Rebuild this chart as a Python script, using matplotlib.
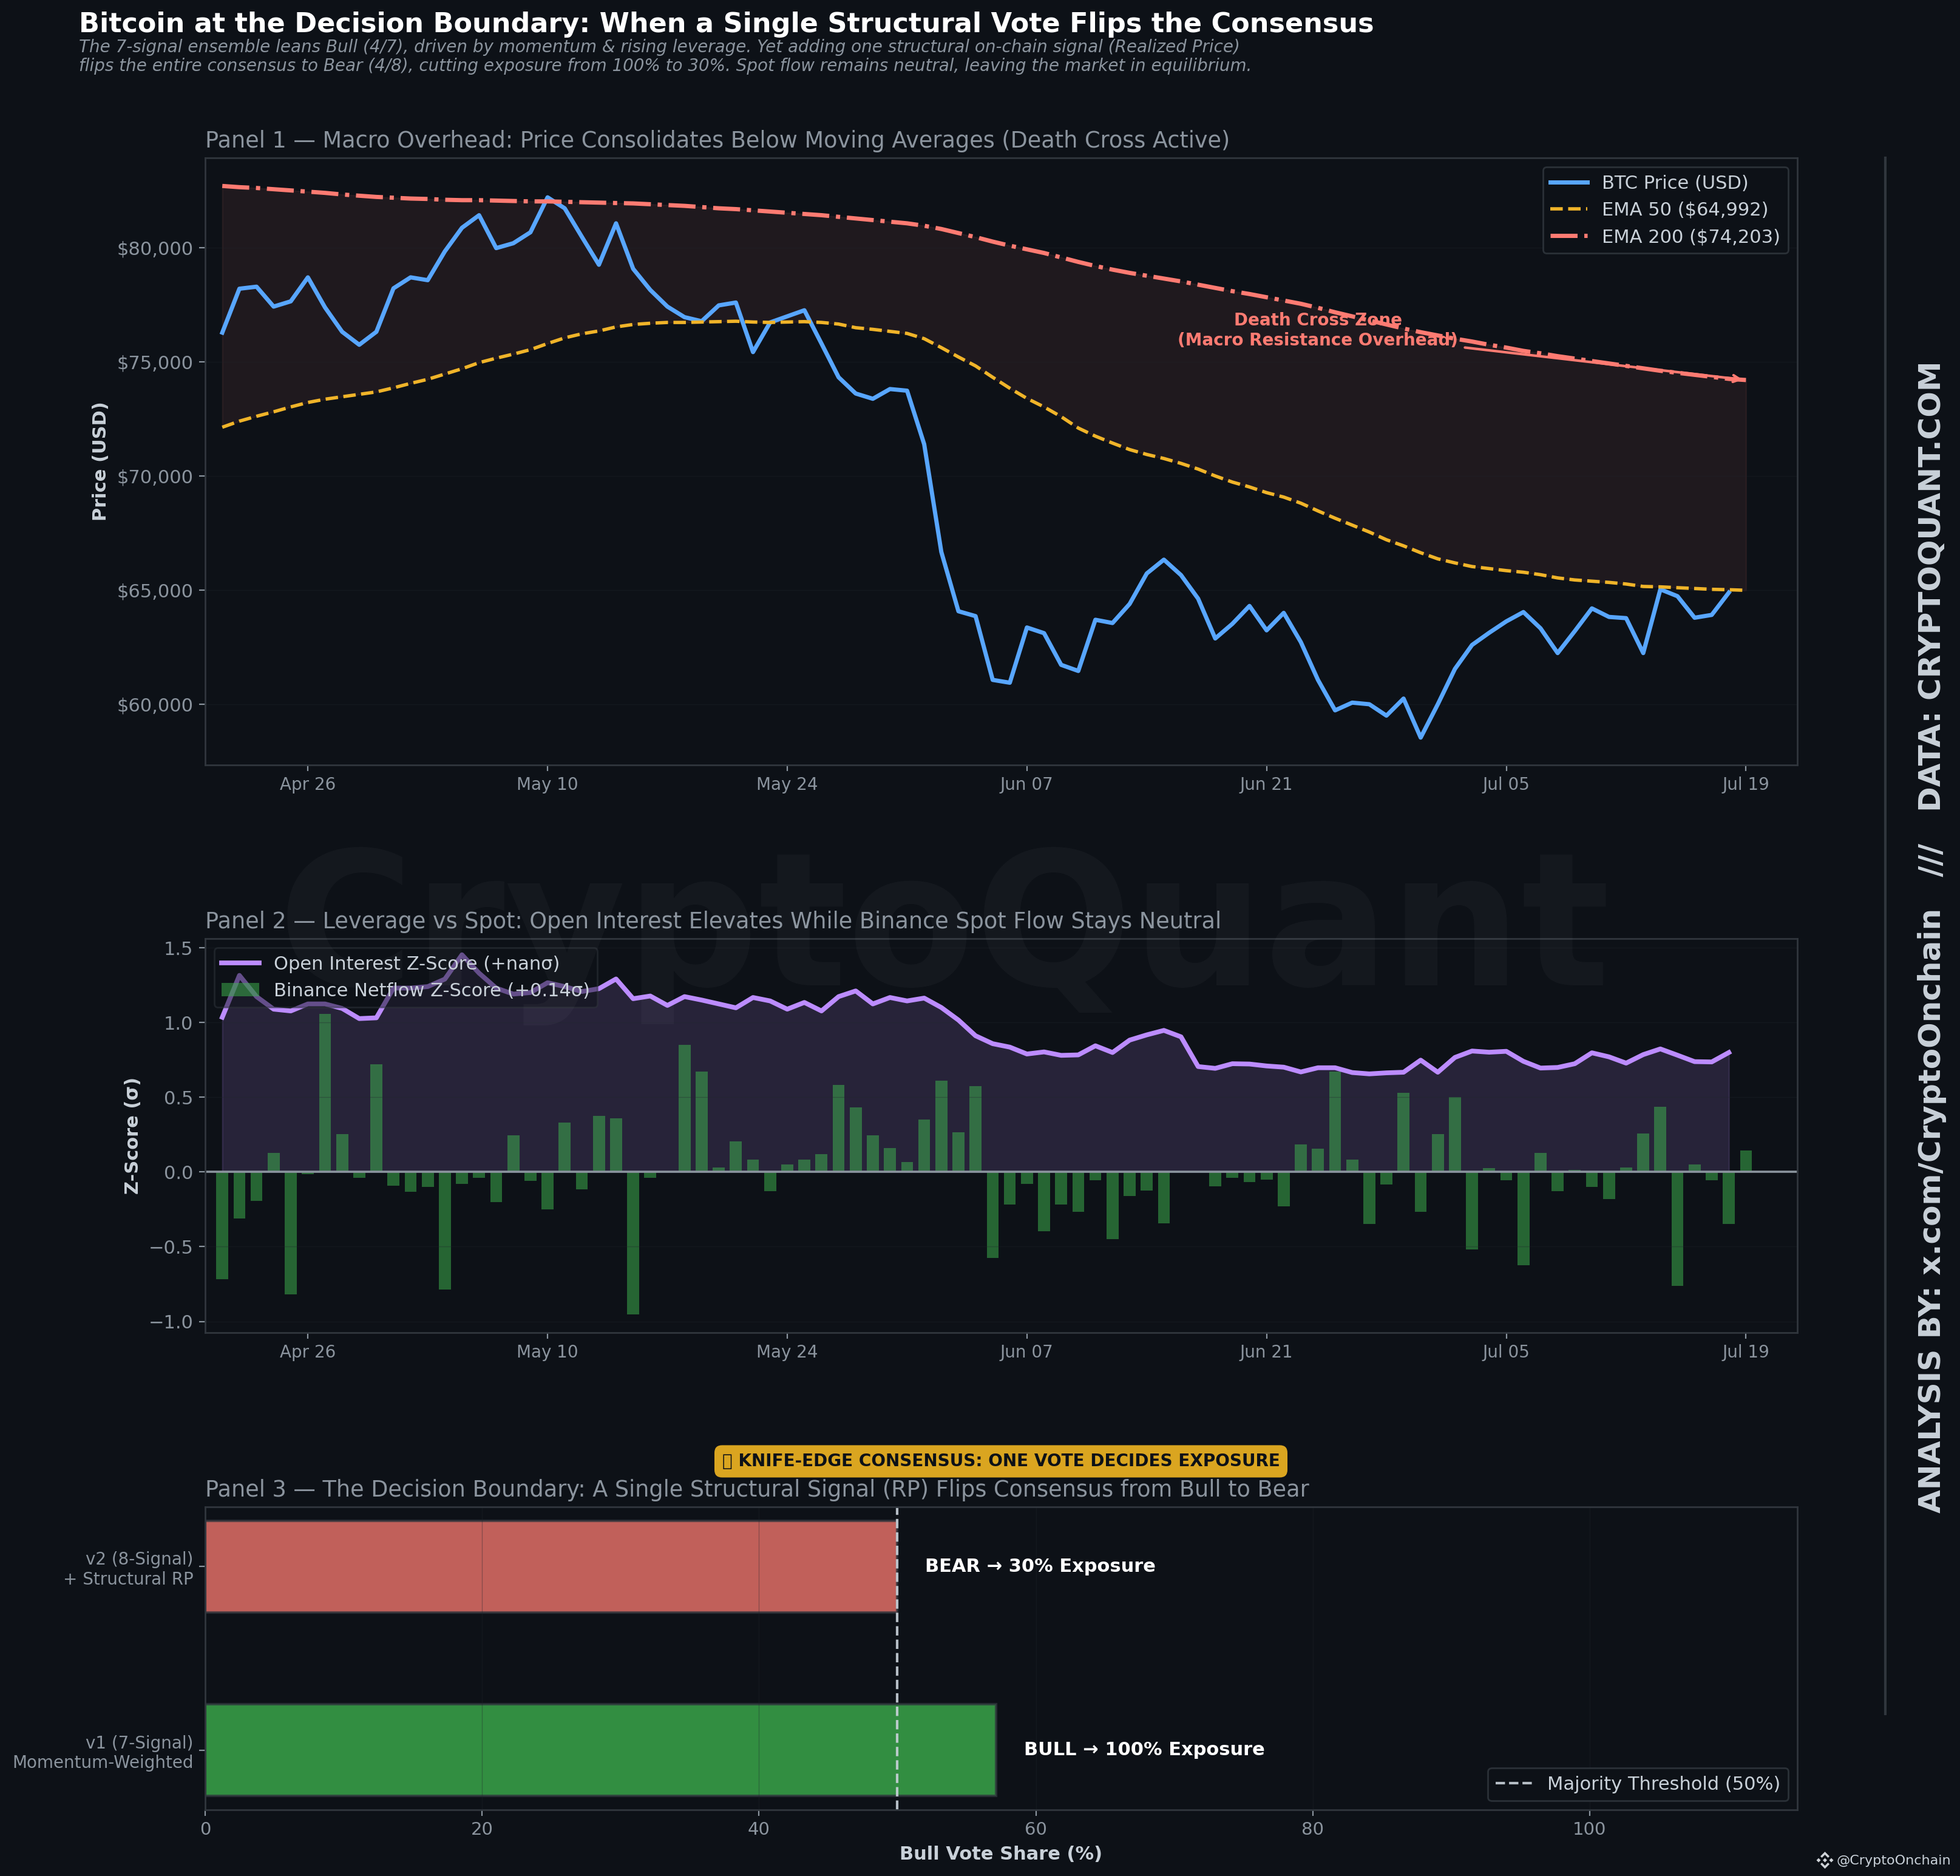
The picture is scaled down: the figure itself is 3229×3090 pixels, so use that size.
import warnings
import pandas as pd
import numpy as np
import matplotlib
matplotlib.use("Agg")
import matplotlib.pyplot as plt
import matplotlib.dates as mdates
from matplotlib.patches import Polygon
from matplotlib.ticker import FuncFormatter

warnings.filterwarnings("ignore")

BG = "#0d1117"; EDGE = "#30363d"; GRID = "#21262d"; MUTED = "#8b949e"; SOFT = "#c9d1d9"
BLUE = "#58a6ff"; GOLD = "#f0b429"; RED = "#ff7b72"; PURPLE = "#bc8cff"; GREEN = "#3fb950"

start_date = "2026-04-21"
price = [76281,78203,78292,77420,77651,78701,77384,76317,75747,76317,78220,78701,78577,79840,80872,81423,79982,80196,80676,82206,
81726,80480,79253,81068,79075,78149,77420,76957,76779,77473,77598,75427,76726,76993,77260,75800,74324,
73612,73381,73808,73736,71388,66672,64074,63861,61067,60943,63363,63114,61726,61459,63701,63558,64395,65729,66334,65658,64626,
62882,63523,64306,63238,64003,62722,61067,59733,60071,60000,59501,60249,58540,60000,61548,62597,63131,63630,64039,63327,62242,
63203,64199,63825,63772,62242,65035,64733,63790,63914,64893]
ema50 = [72135,72402,72615,72811,73025,73220,73363,73470,73576,73683,73861,74057,74235,74466,74697,74964,75160,75338,75534,75801,
76050,76228,76352,76530,76637,76690,76726,76726,76744,76761,76779,76744,76726,76744,76761,76726,76655,
76495,76423,76334,76245,76014,75623,75213,74822,74324,73843,73398,73025,72598,72099,71744,71441,71156,70943,70765,70551,70302,
70000,69733,69519,69270,69075,68808,68469,68149,67847,67544,67206,66939,66637,66370,66192,66032,65943,65854,65783,65676,65534,
65445,65391,65338,65267,65160,65142,65106,65071,65035,65017,64992]
ema200 = [82705,82651,82616,82562,82509,82456,82402,82331,82278,82224,82189,82153,82135,82100,82082,82082,82064,82046,82029,82029,
82011,81993,81975,81957,81940,81904,81868,81833,81779,81726,81690,81637,81584,81530,81477,81424,81352,
81281,81210,81139,81068,80961,80819,80641,80463,80267,80089,79929,79769,79573,79377,79199,79039,78897,78772,78648,78523,78381,
78238,78096,77971,77829,77687,77544,77366,77171,76993,76815,76637,76459,76299,76156,76014,75890,75747,75623,75480,75374,75249,
75142,75035,74929,74822,74715,74608,74519,74430,74341,74253,74203]
oi_z = [1.035,1.315,1.173,1.089,1.077,1.124,1.124,1.094,1.026,1.031,1.23,1.23,1.24,1.29,1.453,1.33,1.23,1.19,1.2,1.266,
1.24,1.207,1.226,1.291,1.159,1.177,1.114,1.173,1.15,1.124,1.098,1.167,1.144,1.089,1.134,1.077,1.173,1.211,1.124,1.167,
1.144,1.163,1.1,1.016,0.911,0.858,0.835,0.789,0.803,0.78,0.783,0.844,0.799,0.882,0.917,0.947,0.904,0.705,0.693,0.724,
0.722,0.709,0.701,0.669,0.697,0.697,0.665,0.656,0.663,0.667,0.748,0.667,0.766,0.809,0.801,0.807,0.74,0.695,0.699,0.724,
0.797,0.77,0.728,0.785,0.823,0.781,0.738,0.736,0.799]
netflow_z = [-0.718,-0.311,-0.195,0.126,-0.819,-0.016,1.057,0.252,-0.039,0.72,-0.093,-0.134,-0.10,-0.787,-0.081,-0.039,-0.203,0.244,-0.059,-0.25,
0.331,-0.116,0.374,0.358,-0.953,-0.039,0.0,0.85,0.671,0.03,0.205,0.083,-0.13,0.049,0.083,0.118,0.583,0.431,0.244,0.159,
0.067,0.35,0.61,0.266,0.573,-0.575,-0.219,-0.081,-0.398,-0.219,-0.268,-0.055,-0.449,-0.161,-0.124,-0.344,0.0,0.0,-0.096,-0.039,
-0.069,-0.051,-0.23,0.183,0.155,0.671,0.083,-0.348,-0.085,0.53,-0.268,0.252,0.502,-0.52,0.026,-0.055,-0.624,0.126,-0.13,0.014,
-0.10,-0.181,0.03,0.256,0.435,-0.762,0.049,-0.055,-0.348,0.144]
vote_labels = ["v1 (7-Signal)\nMomentum-Weighted", "v2 (8-Signal)\n+ Structural RP"]
vote_share = [57.14, 50.0]
vote_text = ["BULL → 100% Exposure", "BEAR → 30% Exposure"]
vote_colors = [GREEN, RED]
price_ticks = [60000, 65000, 70000, 75000, 80000]
z_ticks = [-1.0, -0.5, 0.0, 0.5, 1.0, 1.5]
share_ticks = [0, 20, 40, 60, 80, 100]

dates = pd.date_range(start_date, periods=90, freq="D")
date_ticks = pd.date_range("2026-04-26", "2026-07-19", freq="14D")
xlim = (pd.Timestamp("2026-04-20"), pd.Timestamp("2026-07-22"))

W, H = 3230, 3090
fig = plt.figure(figsize=(W/200, H/200), dpi=200, facecolor=BG)
plt.rcParams["font.family"] = ["DejaVu Sans"]

def box(l, t, r, b):
    return [l/W, 1-b/H, (r-l)/W, (b-t)/H]

ax1 = fig.add_axes(box(338, 260, 2961, 1260))
ax2 = fig.add_axes(box(338, 1546, 2961, 2195))
ax3 = fig.add_axes(box(338, 2482, 2961, 2981))

def style(ax, title):
    ax.set_facecolor(BG)
    for s in ax.spines.values():
        s.set_color(EDGE); s.set_linewidth(1.0)
    ax.tick_params(colors=MUTED, labelsize=11, length=3.5, width=0.8, color=MUTED)
    ax.set_title(title, loc="left", color=MUTED, fontsize=13.2, pad=6)

style(ax1, "Panel 1 — Macro Overhead: Price Consolidates Below Moving Averages (Death Cross Active)")
style(ax2, "Panel 2 — Leverage vs Spot: Open Interest Elevates While Binance Spot Flow Stays Neutral")
style(ax3, "Panel 3 — The Decision Boundary: A Single Structural Signal (RP) Flips Consensus from Bull to Bear")

# Panel 1
ax1.fill_between(dates, ema50, ema200, color=RED, alpha=0.08, linewidth=0.8)
ax1.plot(dates[:len(price)], price, color=BLUE, lw=2.5, label="BTC Price (USD)")
ax1.plot(dates, ema50, color=GOLD, lw=2.0, ls="--", label="EMA 50 ($64,992)")
ax1.plot(dates, ema200, color=RED, lw=2.5, ls="-.", label="EMA 200 ($74,203)")
ax1.set_xlim(*xlim); ax1.set_ylim(57340, 83936)
ax1.set_yticks(price_ticks)
ax1.yaxis.set_major_formatter(FuncFormatter(lambda v, _: f"${v:,.0f}"))
ax1.set_ylabel("Price (USD)", color=SOFT, fontsize=11, fontweight="bold")
ax1.grid(axis="y", color=GRID, alpha=0.35, lw=0.5)
ax1.annotate("Death Cross Zone\n(Macro Resistance Overhead)", xy=(dates[-1], ema200[-1]),
             xytext=(pd.Timestamp("2026-06-24"), 76370), color=RED, fontsize=10, fontweight="bold",
             ha="center", va="center", arrowprops=dict(arrowstyle="->", color=RED, lw=1.5))
ax1.legend(loc="upper right", fontsize=11, facecolor=BG, edgecolor=EDGE, labelcolor=SOFT, framealpha=0.85)

# Panel 2
ax2.fill_between(dates[:len(oi_z)], 0, oi_z, color=PURPLE, alpha=0.15, linewidth=0.8)
ax2.bar(dates[:len(netflow_z)], netflow_z, width=0.7, color=GREEN, alpha=0.5, label="Binance Netflow Z-Score (+0.14σ)")
ax2.plot(dates[:len(oi_z)], oi_z, color=PURPLE, lw=2.8, label="Open Interest Z-Score (+nanσ)")
ax2.axhline(0, color=MUTED, lw=1.3)
ax2.set_xlim(*xlim); ax2.set_ylim(-1.075, 1.561)
ax2.set_yticks(z_ticks)
ax2.set_ylabel("Z-Score (σ)", color=SOFT, fontsize=11, fontweight="bold")
ax2.grid(axis="y", color=GRID, alpha=0.35, lw=0.5)
ax2.legend(loc="upper left", fontsize=11, facecolor=BG, edgecolor=EDGE, labelcolor=SOFT, framealpha=0.5)

for ax in (ax1, ax2):
    ax.set_xticks(date_ticks)
    ax.xaxis.set_major_formatter(mdates.DateFormatter("%b %d"))
    ax.tick_params(axis="x", labelsize=10)

# Panel 3
ypos = np.arange(len(vote_share))
ax3.barh(ypos, vote_share, height=0.5, color=vote_colors, alpha=0.75, edgecolor=EDGE, linewidth=1.5)
ax3.axvline(50, color=SOFT, ls="--", lw=1.5, alpha=0.9, label="Majority Threshold (50%)")
ax3.set_xlim(0, 115); ax3.set_ylim(-0.325, 1.325)
ax3.set_yticks(ypos); ax3.set_yticklabels(vote_labels, fontsize=10)
ax3.set_xticks(share_ticks)
ax3.tick_params(axis="x", labelsize=10.5)
ax3.set_xlabel("Bull Vote Share (%)", color=SOFT, fontsize=11, fontweight="bold")
ax3.grid(axis="x", color=GRID, alpha=0.35, lw=0.5)
for y, v, t in zip(ypos, vote_share, vote_text):
    ax3.text(v + 2, y, t, color="white", fontsize=11, fontweight="bold", va="center")
ax3.legend(loc="lower right", fontsize=11, facecolor=BG, edgecolor=EDGE, labelcolor=SOFT, framealpha=0.85)

# Badge
fig.text(1649/W, 1-2407/H, "\U0001F52A KNIFE-EDGE CONSENSUS: ONE VOTE DECIDES EXPOSURE", ha="center", va="center",
         color=BG, fontsize=10.05, fontweight="bold",
         bbox=dict(boxstyle="round,pad=0.45", facecolor="#daa520", edgecolor="none"))

# Header
fig.text(130/W, 1-53/H, "Bitcoin at the Decision Boundary: When a Single Structural Vote Flips the Consensus",
         color="white", fontsize=16, fontweight="bold", ha="left", va="baseline")
fig.text(130/W, 1-86/H, "The 7-signal ensemble leans Bull (4/7), driven by momentum & rising leverage. Yet adding one structural on-chain signal (Realized Price)",
         color=MUTED, fontsize=10, style="italic", ha="left", va="baseline")
fig.text(130/W, 1-117/H, "flips the entire consensus to Bear (4/8), cutting exposure from 100% to 30%. Spot flow remains neutral, leaving the market in equilibrium.",
         color=MUTED, fontsize=10, style="italic", ha="left", va="baseline")

# Watermark
fig.text(1556/W, 1-1623/H, "CryptoQuant", color="white", alpha=0.03, fontsize=110, fontweight="bold",
         ha="center", va="baseline", zorder=10)

# Side strip
fig.add_artist(plt.Line2D([3106/W, 3106/W], [1-260/H, 1-2823/H], color=EDGE, lw=1.5))
fig.text(3183/W, 1-1543/H, "ANALYSIS BY: x.com/CryptoOnchain   ///   DATA: CRYPTOQUANT.COM", rotation=90,
         color=SOFT, fontsize=18, fontweight="bold", ha="center", va="center")

# Credit
fig.text(3026/W, 1-3065/H, "@CryptoOnchain", color=SOFT, fontsize=8, ha="left", va="center")
logo_c = (3006.5, 3064)
def logo_poly(pts):
    fig.add_artist(Polygon([((logo_c[0]+dx)/W, 1-(logo_c[1]+dy)/H) for dx, dy in pts], closed=True,
                           transform=fig.transFigure, facecolor="#d0d4d9", edgecolor="none"))
logo_poly([(-3.5,0),(0,-3.5),(3.5,0),(0,3.5)])
logo_poly([(-14,0),(-10.5,-3.5),(-7,0),(-10.5,3.5)])
logo_poly([(14,0),(10.5,-3.5),(7,0),(10.5,3.5)])
logo_poly([(0,-14),(7.5,-6.5),(5,-4),(0,-9),(-5,-4),(-7.5,-6.5)])
logo_poly([(0,14),(7.5,6.5),(5,4),(0,9),(-5,4),(-7.5,6.5)])

fig.savefig("out.png", dpi=200, facecolor=BG)
